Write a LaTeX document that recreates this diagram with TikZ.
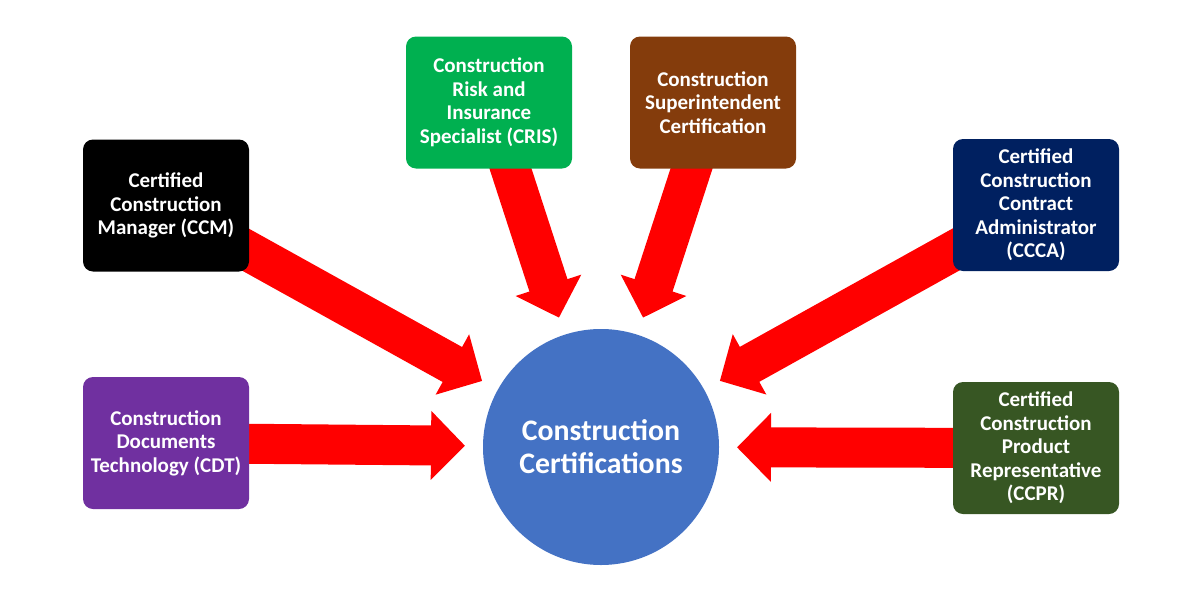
\documentclass[tikz,border=0pt]{standalone}
\usepackage{fontspec}
\setmainfont{Carlito}
\usetikzlibrary{arrows.meta}
\usetikzlibrary{backgrounds}

\definecolor{hubblue}{HTML}{4472C4}
\definecolor{crisgreen}{HTML}{00B050}
\definecolor{cscbrown}{HTML}{843C0C}
\definecolor{cccanavy}{HTML}{002060}
\definecolor{cdtpurple}{HTML}{7030A0}
\definecolor{ccprgreen}{HTML}{375623}
\definecolor{arrowred}{HTML}{FF0000}

\begin{document}
\begin{tikzpicture}
[x=0.5pt,y=-0.5pt,%
  every node/.style={text=white,font=\bfseries\fontsize{10.5}{11.75}\selectfont,align=center},%
  certbox/.style={shape=rectangle,rounded corners=5pt,minimum width=83pt,minimum height=66pt,inner sep=0pt},%
  bigarrow/.style={draw=arrowred,line width=20pt,shorten >=68pt,-{Triangle[length=17pt,width=33.5pt]}}]
\useasboundingbox (0,0) rectangle (1200,600);
\node[shape=circle,fill=hubblue,minimum size=118pt,inner sep=0pt,
  font=\bfseries\fontsize{14.9}{16.5}\selectfont] (hub) at (601,447)
  {Construction\\Certifications};
%%
\node[certbox,fill=black] (ccm) at (166,205.5)
  {Certified\\Construction\\Manager (CCM)};
\node[certbox,fill=cdtpurple] (cdt) at (166,443)
  {Construction\\Documents\\Technology (CDT)};
%%
\node[certbox,fill=crisgreen] (cris) at (489,102.5)
  {Construction\\Risk and\\Insurance\\Specialist (CRIS)};
\node[certbox,fill=cscbrown] (csc) at (713,102.5)
  {Construction\\Superintendent\\Certification};
%%
\node[certbox,fill=cccanavy] (ccca) at (1036,205)
  {Certified\\Construction\\Contract\\Administrator\\(CCCA)};
\node[certbox,fill=ccprgreen] (ccpr) at (1036,448)
  {Certified\\Construction\\Product\\Representative\\(CCPR)};
\begin{scope}[on background layer]
\path
\foreach \startNode in {ccm, cdt, cris, csc, ccca, ccpr}
{
  (\startNode.center) edge[bigarrow] (hub.center)
};
\end{scope}
\end{tikzpicture}
\end{document}
